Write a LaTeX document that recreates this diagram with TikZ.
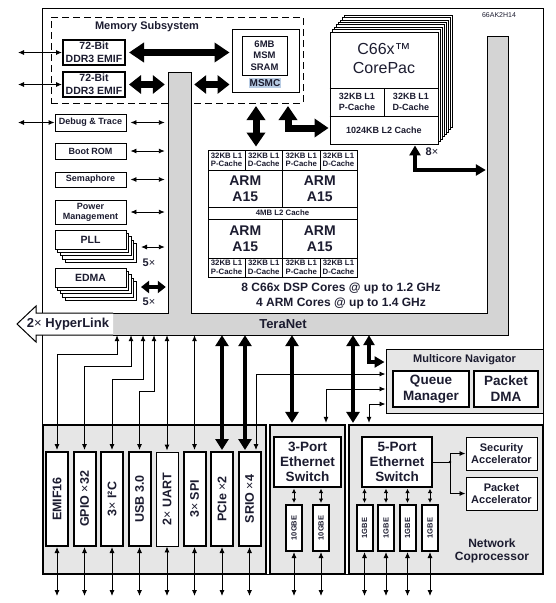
\documentclass[tikz,border=0pt]{standalone}
\usepackage{fontspec}
\setmainfont{Liberation Sans}
\usetikzlibrary{arrows.meta,calc}
\definecolor{txt}{RGB}{28,28,48}
\definecolor{tgray}{RGB}{212,212,212}
\definecolor{pgray}{RGB}{230,230,230}
\definecolor{hl}{RGB}{184,204,228}
\newcommand\fsz[2]{\fontsize{#1}{#2}\selectfont}
\newcommand\xx{{\mdseries ×}}
\tikzset{
  every node/.style={text=txt},
  bx/.style={draw=black, fill=white, line width=0.9pt, inner sep=0pt, align=center},
  tbx/.style={bx, line width=2pt},
  thinA/.style={line width=0.9pt, {Latex[length=6pt,width=5pt]}-{Latex[length=6pt,width=5pt]}},
  thinS/.style={line width=0.9pt, {Latex[length=4.5pt,width=4.5pt]}-{Latex[length=4.5pt,width=4.5pt]}},
  thickA/.style={line width=3.5pt, line join=miter, {Triangle[length=10pt,width=11pt]}-{Triangle[length=10pt,width=11pt]}},
  thickB/.style={line width=4pt, line join=miter, {Triangle[length=11pt,width=13pt]}-{Triangle[length=11pt,width=13pt]}},
  thickE/.style={line width=4pt, {Triangle[length=8pt,width=12pt]}-{Triangle[length=8pt,width=12pt]}},
  bigA/.style={line width=7pt, {Triangle[length=15pt,width=19pt]}-{Triangle[length=15pt,width=19pt]}},
  bigB/.style={line width=7pt, {Triangle[length=12pt,width=18pt]}-{Triangle[length=12pt,width=18pt]}},
  bigV/.style={line width=7pt, line join=miter, {Triangle[length=14pt,width=18pt]}-{Triangle[length=14pt,width=18pt]}},
  lmod/.style={bx, minimum width=71pt, font=\bfseries\fsz{9}{10}},
  cache/.style={font=\bfseries\fsz{7.8}{8.6}, align=center, inner sep=0pt},
  armt/.style={font=\bfseries\fsz{14}{16}, align=center, inner sep=0pt},
  ptxt/.style={rotate=90, font=\bfseries\fsz{12.5}{14}, inner sep=0pt},
  gtxt/.style={rotate=90, font=\bfseries\fsz{7.5}{8}, inner sep=0pt},
  region/.style={draw=black, fill=pgray, line width=1.2pt, inner sep=0pt},
}
\newcommand\permod[4]{%
  \node[#4, minimum width=22pt, minimum height=94pt] (#1) at (#2,499) {};
  \node[ptxt] (#1t) at (#1.center) {#3};}
\begin{document}
\begin{tikzpicture}[x=1pt,y=-1pt]
\useasboundingbox (0,0) rectangle (555,603);
% outer box and regions
\node[draw=black, line width=1pt, minimum width=501pt, minimum height=566pt, inner sep=0pt] (soc) at (292.5,291) {};
\node[region, minimum width=223pt, minimum height=149pt] (perA) at (154.5,499.5) {};
\node[region, minimum width=75pt, minimum height=149pt] (e3A) at (307.5,499.5) {};
\node[region, minimum width=194pt, minimum height=149pt] (ncA) at (446,499.5) {};
\node[font=\mdseries\fsz{7}{8}] (pn) at (499,15) {66AK2H14};
% memory subsystem
\node[draw=black, dash pattern=on 7pt off 4pt, line width=0.8pt, minimum width=252pt, minimum height=86pt, inner sep=0pt] (mem) at (177,60) {};
\node[font=\bfseries\fsz{11}{13}] (memt) at (147,27) {Memory Subsystem};
\node[tbx, minimum width=62pt, minimum height=25pt, font=\bfseries\fsz{10.5}{12.5}] (ddrA) at (94,52.5) {72-Bit\\DDR3 EMIF};
\node[tbx, minimum width=62pt, minimum height=25pt, font=\bfseries\fsz{10.5}{12.5}] (ddrB) at (94,84.5) {72-Bit\\DDR3 EMIF};
\node[bx, minimum width=67pt, minimum height=63pt] (msmc) at (265.5,60.5) {};
\node[bx, minimum width=45pt, minimum height=39pt, font=\bfseries\fsz{9.5}{11.5}] (sram) at (264.5,55.5) {6MB\\MSM\\SRAM};
\node[fill=hl, inner sep=1pt, font=\bfseries\fsz{10}{11}] (msmcl) at (265,83) {MSMC};
% TeraNet
\fill[tgray] (168,72) -- (191,72) -- (191,313) -- (487,313) -- (487,36) -- (508,36) -- (508,335) -- (113,335) -- (113,313) -- (168,313) -- cycle;
\draw[line width=1pt] (113,313) -- (168,313) -- (168,72) -- (191,72) -- (191,313) -- (487,313) -- (487,36) -- (508,36) -- (508,335) -- (113,335);
\node[inner sep=0pt, minimum width=23pt, minimum height=241pt] (trunkL) at (179.5,192.5) {};
\node[inner sep=0pt, minimum width=21pt, minimum height=299pt] (trunkR) at (497.5,185.5) {};
\node[inner sep=0pt, minimum width=395pt, minimum height=22pt] (band) at (310.5,324) {};
\node[font=\bfseries\fsz{13}{15}] (tnl) at (283,324) {TeraNet};
\draw[fill=white, line width=1pt] (113,313) -- (36,313) -- (36,306) -- (17,324) -- (36,342) -- (36,335) -- (113,335);
\node[font=\bfseries\fsz{13}{15}] (hyper) at (68,324) {2\xx\ HyperLink};
% CorePac
\foreach \i in {7,...,1} \draw[fill=white, line width=0.8pt] ({330+2*\i},{32-2.4*\i}) rectangle ({438+2*\i},{144-2.4*\i});
\node[bx, minimum width=108pt, minimum height=112pt] (cp) at (384,88) {};
\draw[line width=0.8pt] (cp.west |- 0,88) -- (cp.east |- 0,88) (cp.west |- 0,116) -- (cp.east |- 0,116) (384,88) -- (384,116);
\node[font=\mdseries\fsz{16}{19}, align=center] (cpt) at (384,58) {C66x™\\CorePac};
\node[font=\bfseries\fsz{9}{10.5}, align=center] (cpP) at (357,102) {32KB L1\\P-Cache};
\node[font=\bfseries\fsz{9}{10.5}, align=center] (cpD) at (411,102) {32KB L1\\D-Cache};
\node[font=\bfseries\fsz{9}{10.5}] (cpL) at (384,130) {1024KB L2 Cache};
\node[font=\bfseries\fsz{11}{12}] (eightx) at (432,152) {8\xx};
% ARM block
\node[bx, minimum width=149pt, minimum height=127pt] (arm) at (282.5,213.5) {};
\draw[line width=0.8pt] (208,170) -- (357,170) (208,207) -- (357,207) (208,219) -- (357,219) (208,258) -- (357,258)
  (245,150) -- (245,170) (282.5,150) -- (282.5,207) (320,150) -- (320,170)
  (245,258) -- (245,277) (282.5,219) -- (282.5,277) (320,258) -- (320,277);
\node[cache] (c1) at (226.5,160) {32KB L1\\P-Cache};
\node[cache] (c2) at (263.75,160) {32KB L1\\D-Cache};
\node[cache] (c3) at (301.25,160) {32KB L1\\P-Cache};
\node[cache] (c4) at (338.5,160) {32KB L1\\D-Cache};
\node[cache] (c5) at (226.5,267.5) {32KB L1\\P-Cache};
\node[cache] (c6) at (263.75,267.5) {32KB L1\\D-Cache};
\node[cache] (c7) at (301.25,267.5) {32KB L1\\P-Cache};
\node[cache] (c8) at (338.5,267.5) {32KB L1\\D-Cache};
\node[armt] (a1) at (245.25,188.5) {ARM\\A15};
\node[armt] (a2) at (319.75,188.5) {ARM\\A15};
\node[armt] (a3) at (245.25,238.5) {ARM\\A15};
\node[armt] (a4) at (319.75,238.5) {ARM\\A15};
\node[cache] (l2) at (282.5,213) {4MB L2 Cache};
\node[font=\bfseries\fsz{12}{15}, align=center] (cores) at (341,295.5) {8 C66x DSP Cores @ up to 1.2 GHz\\4 ARM Cores @ up to 1.4 GHz};
% left modules
\node[lmod, minimum height=17pt] (dbg) at (90.5,122.5) {Debug \& Trace};
\node[lmod, minimum height=16pt] (boot) at (90.5,151) {Boot ROM};
\node[lmod, minimum height=15pt] (sema) at (90.5,179.5) {Semaphore};
\node[lmod, minimum height=24pt] (pwr) at (90.5,212) {Power\\Management};
\foreach \i in {4,...,1} \draw[fill=white, line width=0.8pt] ({55+2.5*\i},{230+3.3*\i}) rectangle ({126+2.5*\i},{249+3.3*\i});
\node[lmod, minimum height=19pt, font=\bfseries\fsz{10.5}{12}] (pll) at (90.5,239.5) {PLL};
\foreach \i in {4,...,1} \draw[fill=white, line width=0.8pt] ({55+2.5*\i},{268+3.3*\i}) rectangle ({126+2.5*\i},{287+3.3*\i});
\node[lmod, minimum height=19pt, font=\bfseries\fsz{10.5}{12}] (edma) at (90.5,277.5) {EDMA};
\node[font=\bfseries\fsz{11}{12}] (fx1) at (149,263) {5\xx};
\node[font=\bfseries\fsz{11}{12}] (fx2) at (149,302) {5\xx};
% left edge arrows
\coordinate (eA) at (18,52.5);
\coordinate (eB) at (18,84.5);
\coordinate (eD) at (18,122.5);
\draw[thinA] (eA) -- (ddrA.west);
\draw[thinA] (eB) -- (ddrB.west);
\draw[thinA] (eD) -- (dbg.west);
\foreach \m in {dbg,boot,sema,pwr} \draw[thinA, shorten <=4pt, shorten >=3pt] (\m.east) -- (\m.east -| trunkL.west);
\coordinate (pllR) at (141,247);
\coordinate (edR) at (141,287);
\draw[thinA, shorten >=3pt] (pllR) -- (pllR -| trunkL.west);
\draw[thickE, shorten >=2pt] (edR) -- (edR -| trunkL.west);
% big memory arrows
\draw[bigA, shorten <=3pt, shorten >=2pt] (ddrA.east) -- (ddrA.east -| msmc.west);
\draw[bigB, shorten <=3pt, shorten >=3pt] (ddrB.east) -- (ddrB.east -| trunkL.west);
\draw[bigB, shorten <=3pt, shorten >=2pt] (ddrB.east -| trunkL.east) -- (ddrB.east -| msmc.west);
\coordinate (mv1) at (256,104);
\draw[bigV, shorten <=2pt, shorten >=3pt] (mv1) -- (mv1 |- arm.north);
\coordinate (mc1) at (288,104);
\draw[bigV, shorten <=2pt, shorten >=1pt] (mc1) |- (cp.west |- 0,128);
\draw[thickA, shorten <=1pt, shorten >=1pt] (cp.south -| 415,0) |- (trunkR.west |- 0,170);
% multicore navigator
\node[draw=black, fill=pgray, line width=1pt, minimum width=157pt, minimum height=64pt, inner sep=0pt] (nav) at (464.5,381) {};
\node[font=\bfseries\fsz{11}{12}] (navt) at (464.5,360) {Multicore Navigator};
\node[tbx, minimum width=76pt, minimum height=36pt, font=\bfseries\fsz{13.5}{16}] (qm) at (431,389) {Queue\\Manager};
\node[tbx, minimum width=64pt, minimum height=36pt, font=\bfseries\fsz{13.5}{16}] (pdma) at (506,389) {Packet\\DMA};
% peripherals
\permod{emif}{57}{EMIF16}{tbx}
\permod{gpio}{84.5}{GPIO \xx32}{tbx}
\permod{iic}{112}{3\xx\ I²C}{tbx}
\permod{usb}{139.5}{USB 3.0}{tbx}
\permod{uart}{167}{2\xx\ UART}{bx}
\permod{spi}{194.5}{3\xx\ SPI}{tbx}
\permod{pcie}{222}{PCIe \xx2}{tbx}
\permod{srio}{249.5}{SRIO \xx4}{tbx}
\draw[thinA, shorten >=1pt] (band.south -| 117,0) |- (emif.north |- 0,354) -- (emif.north);
\draw[thinA, shorten >=1pt] (band.south -| 131,0) |- (gpio.north |- 0,366) -- (gpio.north);
\draw[thinA, shorten >=1pt] (band.south -| 143,0) |- (iic.north |- 0,379) -- (iic.north);
\draw[thinA, shorten >=1pt] (band.south -| 154,0) |- (usb.north |- 0,391) -- (usb.north);
\draw[thinA, shorten >=1pt] (band.south -| uart.north) -- (uart.north);
\draw[thinA, shorten >=1pt] (band.south -| spi.north) -- (spi.north);
\draw[thickB, shorten >=1pt] (band.south -| pcie.north) -- (pcie.north);
\draw[thickB, shorten >=1pt] (band.south -| 245,0) -- (srio.north -| 245,0);
\foreach \m in {emif,gpio,iic,usb,uart,spi,pcie,srio} \draw[thinA] (\m.south) -- (\m.south |- 0,596);
% TeraNet to network / navigator
\draw[thickA, shorten >=1pt] (band.south -| 369,0) |- (nav.west |- 0,362);
\draw[thickB, shorten >=1.5pt] (band.south -| 353,0) -- (ncA.north -| 353,0);
\draw[thickB, shorten >=1.5pt] (band.south -| 292,0) -- (e3A.north -| 292,0);
\draw[thinA, shorten >=1pt] (nav.west |- 0,374) -| (srio.north -| 256,0);
\draw[thinA, shorten >=1.5pt] (nav.west |- 0,389) -| (e3A.north -| 326,0);
\draw[thinA, shorten >=1.5pt] (nav.west |- 0,404) -| (ncA.north -| 369,0);
% ethernet switches
\node[bx, line width=1.2pt, minimum width=67pt, minimum height=50pt, font=\bfseries\fsz{13.5}{15}] (sw3) at (307.5,462) {3-Port\\Ethernet\\Switch};
\node[bx, line width=1.2pt, minimum width=70pt, minimum height=50pt, font=\bfseries\fsz{13.5}{15}] (sw5) at (397,462) {5-Port\\Ethernet\\Switch};
\node[tbx, minimum width=16pt, minimum height=46pt] (x1) at (294,528) {};
\node[tbx, minimum width=16pt, minimum height=46pt] (x2) at (321,528) {};
\node[gtxt] (x1t) at (x1.center) {10GBE};
\node[gtxt] (x2t) at (x2.center) {10GBE};
\foreach \n/\x in {g1/364.5,g2/386,g3/407.5,g4/430} {
  \node[tbx, minimum width=16pt, minimum height=46pt] (\n) at (\x,528) {};
  \node[gtxt] (\n t) at (\n.center) {1GBE};
  \draw[thinS, shorten <=1pt, shorten >=1pt] (sw5.south -| \n.north) -- (\n.north);
  \draw[thinA] (\n.south) -- (\n.south |- 0,596);
}
\foreach \n in {x1,x2} {
  \draw[thinS, shorten <=1pt, shorten >=1pt] (sw3.south -| \n.north) -- (\n.north);
  \draw[thinA] (\n.south) -- (\n.south |- 0,596);
}
\node[bx, line width=1pt, minimum width=71pt, minimum height=33pt, font=\bfseries\fsz{11}{12}] (sec) at (501.5,453.5) {Security\\Accelerator};
\node[bx, line width=1pt, minimum width=71pt, minimum height=33pt, font=\bfseries\fsz{11}{12}] (pa) at (501.5,493.5) {Packet\\Accelerator};
\coordinate (jn) at (450,462);
\draw[line width=0.9pt] (sw5.east) -- (jn);
\draw[line width=0.9pt, -{Latex[length=6pt,width=5pt]}] (jn) |- (sec.west);
\draw[line width=0.9pt, -{Latex[length=6pt,width=5pt]}] (jn) |- (pa.west);
\fill (jn) circle (1.3pt);
\node[font=\bfseries\fsz{12}{13}, align=center] (nct) at (492,551) {Network\\Coprocessor};
\end{tikzpicture}
\end{document}
